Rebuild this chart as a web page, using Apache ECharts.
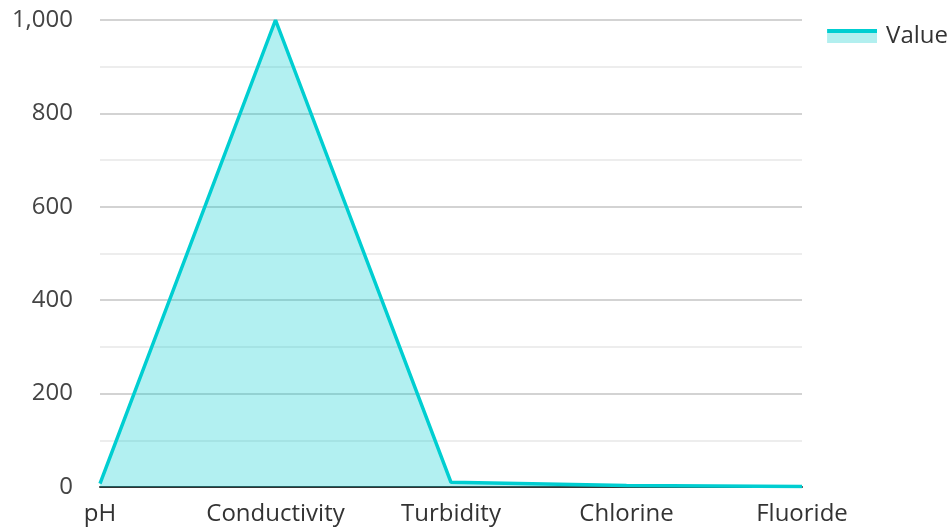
<!DOCTYPE html>
<html><head><meta charset="utf-8">
<script src="https://cdn.jsdelivr.net/npm/echarts@6/dist/echarts.min.js"></script>
<style>html,body{margin:0;padding:0;background:#fff}#c{width:950px;height:529px}</style>
</head><body><div id="c"></div>
<script>
const categories = ['pH', 'Conductivity', 'Turbidity', 'Chlorine', 'Fluoride'];
const values = [7, 1000, 10, 3, 1];
const seriesName = 'Value';

const iconSvg = '<svg xmlns="http://www.w3.org/2000/svg" width="50" height="14"><rect x="0" y="0" width="50" height="4" fill="#00CED1"/><rect x="0" y="4" width="50" height="10" fill="#b2efef"/></svg>';
const iconUri = 'image://data:image/svg+xml;charset=utf-8,' + encodeURIComponent(iconSvg);

const chart = echarts.init(document.getElementById('c'));
chart.setOption({
  animation: false,
  textStyle: { fontFamily: 'Open Sans' },
  legend: {
    right: 2, top: 24, padding: 0, itemWidth: 50, itemHeight: 14, itemGap: 10,
    textStyle: { fontSize: 24, color: '#333', fontFamily: 'Open Sans', padding: [0, 0, 0, 4] },
    data: [{ name: seriesName, icon: iconUri }]
  },
  grid: { left: 100, right: 148, top: 20, bottom: 42, containLabel: false },
  xAxis: {
    type: 'category', data: categories, boundaryGap: false,
    axisLine: { lineStyle: { color: '#333', width: 2 } },
    axisTick: { show: false },
    axisLabel: { interval: 0, fontSize: 24, color: '#333', margin: 15, fontFamily: 'Open Sans' }
  },
  yAxis: {
    type: 'value', min: 0, max: 1000, interval: 200,
    axisLine: { show: false }, axisTick: { show: false },
    axisLabel: { fontSize: 24, color: '#444', margin: 27, fontFamily: 'Open Sans' },
    splitLine: { lineStyle: { color: '#c4c4c4', width: 1.5 } },
    minorTick: { show: false, splitNumber: 2 },
    minorSplitLine: { show: true, lineStyle: { color: '#e8e8e8', width: 1.5 } }
  },
  series: [{
    name: seriesName, type: 'line', data: values, symbol: 'none',
    lineStyle: { color: '#00CED1', width: 3.5 },
    itemStyle: { color: '#00CED1' },
    areaStyle: { color: '#00CED1', opacity: 0.3 }
  }]
});
</script></body></html>
